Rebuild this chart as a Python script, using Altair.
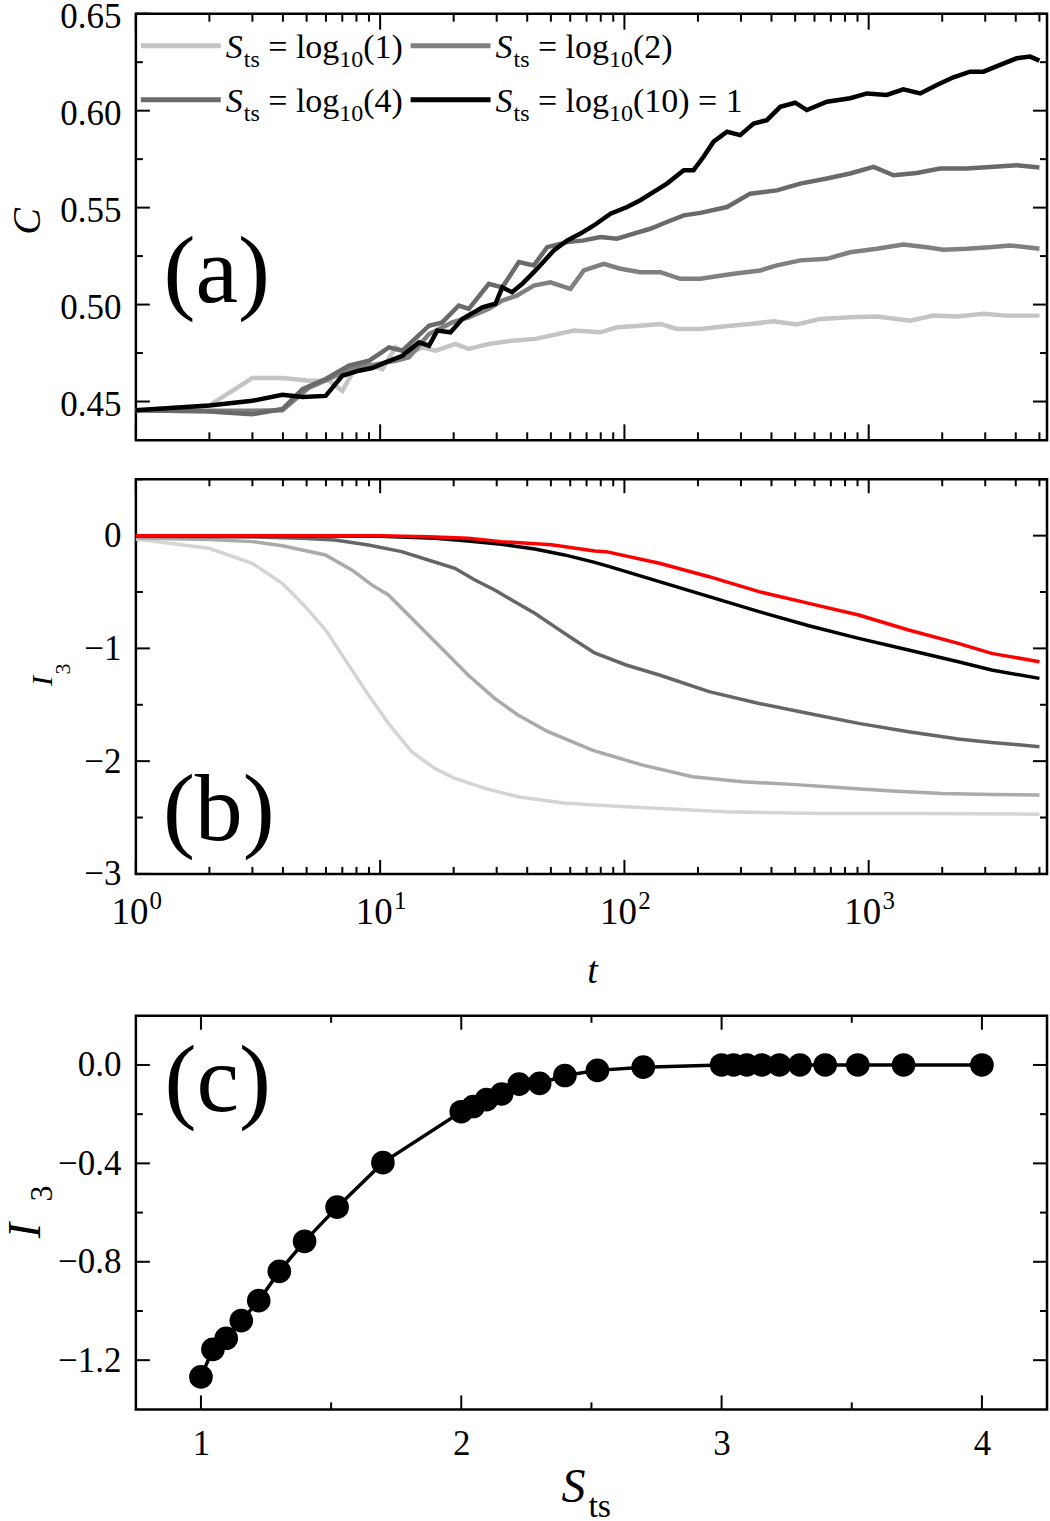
import altair as alt
import pandas as pd

FONT = "Liberation Serif"
W = 912
H_A, H_B, H_C = 427, 395, 394
TICK_FS = 35

# ---------------- (a) clustering C(t); time stored as log10(t) ----------------
a1_logt = [0, 0.301, 0.477, 0.6, 0.709, 0.791, 0.845, 0.9, 0.954, 1.009,
           1.063, 1.118, 1.172, 1.227, 1.309, 1.363, 1.445, 1.54, 1.636, 1.697,
           1.793, 1.902, 1.97, 2.065, 2.147, 2.215, 2.311, 2.434, 2.515, 2.611,
           2.706, 2.802, 2.924, 3.033, 3.17, 3.265, 3.361, 3.47, 3.565, 3.699]
a1_c = [0.4455, 0.448, 0.4621, 0.4621, 0.4607, 0.4607, 0.4555, 0.4676, 0.4693, 0.4667,
        0.4779, 0.4745, 0.4779, 0.4762, 0.4797, 0.4771, 0.4797, 0.4814, 0.4823, 0.484,
        0.4866, 0.4857, 0.4883, 0.4891, 0.49, 0.4874, 0.4874, 0.4891, 0.49, 0.4914,
        0.4897, 0.4926, 0.4934, 0.4938, 0.4917, 0.4943, 0.4938, 0.4952, 0.4943, 0.4943]

a2_logt = [0, 0.301, 0.477, 0.6, 0.709, 0.804, 0.872, 0.954, 1.063, 1.118,
           1.2, 1.295, 1.363, 1.445, 1.5, 1.561, 1.629, 1.697, 1.779, 1.834,
           1.915, 1.984, 2.065, 2.147, 2.229, 2.311, 2.447, 2.556, 2.624, 2.72,
           2.829, 2.924, 3.033, 3.142, 3.238, 3.306, 3.401, 3.497, 3.579, 3.699]
a2_c = [0.4455, 0.4453, 0.4452, 0.4455, 0.4572, 0.4624, 0.4668, 0.4685, 0.471, 0.4728,
        0.4848, 0.4908, 0.4934, 0.4978, 0.5021, 0.5047, 0.5098, 0.5115, 0.5081, 0.5176,
        0.521, 0.5185, 0.5167, 0.5167, 0.5133, 0.5133, 0.5159, 0.5176, 0.5202, 0.5228,
        0.5236, 0.527, 0.5288, 0.531, 0.5296, 0.5283, 0.5288, 0.5296, 0.5305, 0.5288]

a4_logt = [0, 0.301, 0.477, 0.6, 0.682, 0.777, 0.872, 0.954, 1.036, 1.091,
           1.2, 1.254, 1.322, 1.363, 1.445, 1.5, 1.568, 1.629, 1.684, 1.766,
           1.834, 1.902, 1.97, 2.038, 2.106, 2.174, 2.243, 2.311, 2.42, 2.515,
           2.624, 2.72, 2.829, 2.924, 3.02, 3.102, 3.197, 3.292, 3.401, 3.497,
           3.606, 3.699]
a4_c = [0.4455, 0.4448, 0.4435, 0.4461, 0.4564, 0.4616, 0.4685, 0.471, 0.4779, 0.4762,
        0.4891, 0.4908, 0.4995, 0.4978, 0.5107, 0.5089, 0.5219, 0.5202, 0.5296, 0.5322,
        0.5331, 0.5348, 0.534, 0.5366, 0.5391, 0.5426, 0.546, 0.5473, 0.5503, 0.5572,
        0.5589, 0.5624, 0.565, 0.5676, 0.571, 0.5667, 0.5679, 0.5702, 0.5702, 0.571,
        0.5719, 0.5707]

a10_logt = [0, 0.301, 0.477, 0.6, 0.682, 0.777, 0.845, 0.913, 0.968, 1.022,
            1.091, 1.159, 1.2, 1.234, 1.288, 1.336, 1.384, 1.418, 1.472, 1.5,
            1.54, 1.582, 1.636, 1.711, 1.766, 1.82, 1.875, 1.943, 2.011, 2.065,
            2.12, 2.174, 2.243, 2.283, 2.324, 2.365, 2.42, 2.474, 2.529, 2.583,
            2.638, 2.699, 2.747, 2.829, 2.924, 2.993, 3.074, 3.142, 3.211, 3.279,
            3.347, 3.415, 3.47, 3.538, 3.606, 3.661, 3.699]
a10_c = [0.4455, 0.448, 0.4504, 0.4535, 0.4524, 0.4529, 0.4633, 0.4659, 0.4673, 0.4702,
         0.4736, 0.4805, 0.4788, 0.4866, 0.4857, 0.4926, 0.496, 0.4986, 0.5004, 0.5089,
         0.5064, 0.5107, 0.5176, 0.5279, 0.5331, 0.5366, 0.5408, 0.5469, 0.5503, 0.5538,
         0.5581, 0.5624, 0.5693, 0.5693, 0.5762, 0.584, 0.5891, 0.5874, 0.5934, 0.5951,
         0.602, 0.6041, 0.6003, 0.6046, 0.6064, 0.6089, 0.6081, 0.611, 0.6089, 0.6132,
         0.6172, 0.6201, 0.6201, 0.6236, 0.627, 0.6279, 0.6258]

# ---------------- (b) tripartite information I3(t) ----------------
b1_logt = [0, 0.299, 0.476, 0.599, 0.694, 0.782, 0.871, 0.952, 1.034, 1.129,
           1.224, 1.306, 1.429, 1.564, 1.75, 1.878, 2.007, 2.415, 2.823, 3.231, 3.699]
b1_i = [-0.03, -0.112, -0.245, -0.423, -0.63, -0.852, -1.147, -1.414, -1.665, -1.917,
        -2.065, -2.153, -2.242, -2.316, -2.372, -2.389, -2.404, -2.449, -2.464, -2.464, -2.47]

b2_logt = [0, 0.301, 0.477, 0.6, 0.776, 0.884, 0.966, 1.034, 1.116, 1.197,
           1.279, 1.36, 1.469, 1.564, 1.687, 1.8, 1.871, 2.075, 2.279, 2.483,
           2.687, 2.891, 3.095, 3.299, 3.503, 3.699]
b2_i = [-0.02, -0.035, -0.053, -0.089, -0.171, -0.304, -0.437, -0.526, -0.704, -0.881,
        -1.059, -1.236, -1.443, -1.591, -1.739, -1.84, -1.905, -2.035, -2.139, -2.183,
        -2.206, -2.236, -2.265, -2.286, -2.295, -2.301]

b3_logt = [0, 0.477, 0.68, 0.816, 0.952, 1.088, 1.197, 1.306, 1.388, 1.469,
           1.551, 1.633, 1.714, 1.796, 1.878, 2.007, 2.143, 2.347, 2.551, 2.755,
           2.959, 3.163, 3.367, 3.503, 3.699]
b3_i = [-0.005, -0.012, -0.024, -0.038, -0.083, -0.142, -0.216, -0.29, -0.393, -0.482,
        -0.586, -0.689, -0.807, -0.926, -1.04, -1.147, -1.236, -1.384, -1.488, -1.577,
        -1.665, -1.739, -1.804, -1.834, -1.872]

b4_logt = [0, 0.6, 1.0, 1.224, 1.36, 1.497, 1.633, 1.755, 1.878, 1.939,
           2.143, 2.347, 2.551, 2.755, 2.959, 3.163, 3.367, 3.503, 3.699]
b4_i = [0, 0, -0.005, -0.024, -0.047, -0.077, -0.118, -0.171, -0.237, -0.275,
        -0.408, -0.541, -0.674, -0.799, -0.911, -1.014, -1.118, -1.192, -1.266]

b5_logt = [0, 1.0, 1.2, 1.36, 1.497, 1.701, 1.878, 1.925, 2.143, 2.347,
           2.551, 2.755, 2.959, 3.163, 3.367, 3.503, 3.699]
b5_i = [0, 0, -0.01, -0.024, -0.053, -0.08, -0.136, -0.142, -0.245, -0.364,
        -0.497, -0.601, -0.704, -0.837, -0.956, -1.044, -1.118]

# ---------------- (c) final I3 versus S_ts ----------------
c_s = [1.0, 1.046, 1.097, 1.155, 1.222, 1.301, 1.398, 1.523, 1.699,
       2.0, 2.046, 2.097, 2.155, 2.222, 2.301, 2.398, 2.523, 2.699,
       3.0, 3.046, 3.097, 3.155, 3.222, 3.301, 3.398, 3.523, 3.699, 4.0]
c_i = [-1.268, -1.156, -1.111, -1.039, -0.958, -0.839, -0.717, -0.578, -0.397,
       -0.19, -0.169, -0.141, -0.118, -0.078, -0.075, -0.043, -0.022, -0.009,
       0, 0, 0, 0, 0, 0, 0, 0, 0, 0]

# tick positions and labels
log_major = [1, 10, 100, 1000]
log_minor = [2, 3, 4, 5, 6, 7, 8, 9, 20, 30, 40, 50, 60, 70, 80, 90,
             200, 300, 400, 500, 600, 700, 800, 900, 2000, 3000, 4000, 5000]
decade_exp = ["0", "1", "2", "3"]
a_major = [0.45, 0.5, 0.55, 0.6, 0.65]
a_minor = [0.475, 0.525, 0.575, 0.625]
b_major = [0, -1, -2, -3]
b_minor = [0.5, -0.5, -1.5, -2.5]
c_xmajor = [1, 2, 3, 4]
c_xminor = [1.5, 2.5, 3.5]
c_ymajor = [0.0, -0.4, -0.8, -1.2]
c_yminor = [-0.2, -0.6, -1.0]

GREY_A = ["#c4c4c4", "#808080", "#6a6a6a", "#000000"]
GREY_B = ["#d4d4d4", "#aaaaaa", "#666666", "#000000", "#ff0000"]

DUMMY = pd.DataFrame({"k": [0]})
MAJOR, MINOR = 14, 7


def series(logt, vals):
    return pd.DataFrame({"t": [10 ** v for v in logt], "v": vals})


def y_axis(values, fmt, offset=0):
    return alt.Axis(values=values, format=fmt, ticks=False, tickSize=0, domain=False,
                    grid=False, title=None, labelPadding=15, labelFont=FONT,
                    labelFontSize=TICK_FS, labelColor="black", labelOffset=offset)


def x_ticks(values, scale, axis, H, length):
    r = alt.Chart(pd.DataFrame({"tick": values})).mark_rule(color="black", strokeWidth=2)
    x = alt.X("tick:Q", scale=scale, axis=axis)
    return [r.encode(x=x, y=alt.value(H - length), y2=alt.value(H)),
            r.encode(x=x, y=alt.value(0), y2=alt.value(length))]


def y_ticks(values, scale, axis, length):
    r = alt.Chart(pd.DataFrame({"tick": values})).mark_rule(color="black", strokeWidth=2)
    y = alt.Y("tick:Q", scale=scale, axis=axis)
    return [r.encode(y=y, x=alt.value(0), x2=alt.value(length)),
            r.encode(y=y, x=alt.value(W - length), x2=alt.value(W))]


def text(s, x, y, size, italic=False, align="left", angle=0):
    kw = dict(text=s, font=FONT, fontSize=size, align=align, baseline="alphabetic",
              color="black", fontStyle="italic" if italic else "normal")
    if angle:
        kw["angle"] = angle
    return alt.Chart(DUMMY).mark_text(**kw).encode(x=alt.value(x), y=alt.value(y))


def spacer(y):
    return alt.Chart(DUMMY).mark_rule(strokeOpacity=0).encode(
        x=alt.value(0), x2=alt.value(5), y=alt.value(y))


def legend_entry(x0, y0, color, arg):
    line = alt.Chart(DUMMY).mark_rule(color=color, strokeWidth=5).encode(
        x=alt.value(x0), x2=alt.value(x0 + 80), y=alt.value(y0))
    tx, base = x0 + 85, y0 + 12
    return [line,
            text("S", tx, base, 34, italic=True),
            text("ts", tx + 18, base + 9, 24),
            text("= log", tx + 42.5, base, 34),
            text("10", tx + 113.6, base + 9, 24),
            text(arg, tx + 137.6, base, 34)]


log_x = alt.Scale(type="log", domain=[1, 5370], nice=False)

# ---------- panel (a) ----------
ys_a = alt.Scale(domain=[0.43, 0.65], nice=False, zero=False)
ax_a = y_axis(a_major, ".2f", offset=3)
lines_a = []
for (lt, vals), col in zip([(a1_logt, a1_c), (a2_logt, a2_c), (a4_logt, a4_c), (a10_logt, a10_c)], GREY_A):
    lines_a.append(alt.Chart(series(lt, vals)).mark_line(color=col, strokeWidth=4.5).encode(
        x=alt.X("t:Q", scale=log_x, axis=None),
        y=alt.Y("v:Q", scale=ys_a, axis=ax_a)))

legend = (legend_entry(5, 32, GREY_A[0], "(1)") + legend_entry(275, 32, GREY_A[1], "(2)")
          + legend_entry(5, 86, GREY_A[2], "(4)") + legend_entry(275, 86, GREY_A[3], "(10) = 1"))

panel_a = alt.layer(
    *x_ticks(log_major, log_x, None, H_A, MAJOR + 2), *x_ticks(log_minor, log_x, None, H_A, MINOR + 1),
    *y_ticks(a_major, ys_a, ax_a, MAJOR), *y_ticks(a_minor, ys_a, ax_a, MINOR),
    *lines_a, *legend,
    text("(a)", 81, 289, 96, align="center"),
    text("C", -96, 208, 40, italic=True, align="center", angle=270),
    spacer(H_A + 14),
).properties(width=W, height=H_A)

# ---------- panel (b) ----------
ys_b = alt.Scale(domain=[-3, 0.5], nice=False, zero=False)
ax_b = y_axis(b_major, "d")
lines_b = []
for (lt, vals), col in zip([(b1_logt, b1_i), (b2_logt, b2_i), (b3_logt, b3_i),
                            (b4_logt, b4_i), (b5_logt, b5_i)], GREY_B):
    lines_b.append(alt.Chart(series(lt, vals)).mark_line(color=col, strokeWidth=3.5).encode(
        x=alt.X("t:Q", scale=log_x, axis=None),
        y=alt.Y("v:Q", scale=ys_b, axis=ax_b)))

decades = pd.DataFrame({"t": log_major, "base": ["10"] * 4, "exp": decade_exp})
dec_base = alt.Chart(decades).mark_text(font=FONT, fontSize=37, align="center",
                                        baseline="alphabetic", dx=-6, color="black").encode(
    x=alt.X("t:Q", scale=log_x, axis=None), y=alt.value(H_B + 50), text="base:N")
dec_exp = alt.Chart(decades).mark_text(font=FONT, fontSize=25, align="center",
                                       baseline="alphabetic", dx=20, color="black").encode(
    x=alt.X("t:Q", scale=log_x, axis=None), y=alt.value(H_B + 35), text="exp:N")

panel_b = alt.layer(
    *x_ticks(log_major, log_x, None, H_B, MAJOR), *x_ticks(log_minor, log_x, None, H_B, MINOR),
    *y_ticks(b_major, ys_b, ax_b, MAJOR), *y_ticks(b_minor, ys_b, ax_b, MINOR),
    *lines_b, dec_base, dec_exp,
    text("(b)", 83, 361, 96, align="center"),
    text("I", -84, 202, 30, italic=True, align="center", angle=270),
    text("3", -66, 190, 22, align="center", angle=270),
    text("t", 457, H_B + 109, 38, italic=True, align="center"),
    spacer(H_B + 117),
).properties(width=W, height=H_B)

# ---------- panel (c) ----------
xs_c = alt.Scale(domain=[0.75, 4.25], nice=False, zero=False)
ys_c = alt.Scale(domain=[-1.4, 0.2], nice=False, zero=False)
ax_cy = y_axis(c_ymajor, ".1f")
ax_cx = alt.Axis(values=c_xmajor, format="d", ticks=False, tickSize=0, domain=False,
                 grid=False, title=None, labelPadding=17, labelFont=FONT,
                 labelFontSize=TICK_FS, labelColor="black")
df_c = pd.DataFrame({"s": c_s, "v": c_i})
enc_c = dict(x=alt.X("s:Q", scale=xs_c, axis=ax_cx), y=alt.Y("v:Q", scale=ys_c, axis=ax_cy))
line_c = alt.Chart(df_c).mark_line(color="black", strokeWidth=3.5).encode(**enc_c)
dots_c = alt.Chart(df_c).mark_circle(color="black", opacity=1, size=560).encode(**enc_c)

panel_c = alt.layer(
    *x_ticks(c_xmajor, xs_c, ax_cx, H_C, MAJOR), *x_ticks(c_xminor, xs_c, ax_cx, H_C, MINOR),
    *y_ticks(c_ymajor, ys_c, ax_cy, MAJOR), *y_ticks(c_yminor, ys_c, ax_cy, MINOR),
    line_c, dots_c,
    text("(c)", 82, 95, 96, align="center"),
    text("I", -96, 215, 46, italic=True, align="center", angle=270),
    text("3", -84, 178, 32, align="center", angle=270),
    text("S", 426, H_C + 93, 48, italic=True),
    text("ts", 453, H_C + 108, 34),
).properties(width=W, height=H_C)

chart = alt.vconcat(panel_a, panel_b, panel_c, spacing=20).properties(
    padding={"left": 1, "top": -3, "right": 0, "bottom": 0},
    background="white",
).configure_view(stroke="black", strokeWidth=2.5)

chart.save("out.html", embed_options={"renderer": "svg", "actions": False})
